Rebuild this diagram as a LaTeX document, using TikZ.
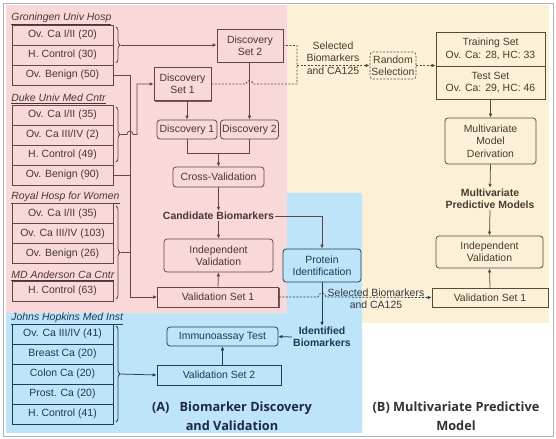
\documentclass[tikz,border=0pt]{standalone}
\usepackage{fontspec}
\setmainfont{Liberation Sans}
\newfontfamily\capfont{Open Sans}
\usetikzlibrary{arrows.meta,decorations.pathreplacing,shadows}
\definecolor{pinkbg}{RGB}{249,216,217}
\definecolor{beigebg}{RGB}{252,240,214}
\definecolor{bluebg}{RGB}{189,228,248}
\definecolor{pline}{RGB}{100,68,68}
\definecolor{ptext}{RGB}{72,54,54}
\definecolor{bline}{RGB}{88,74,58}
\definecolor{btext}{RGB}{70,60,48}
\definecolor{uline}{RGB}{40,58,76}
\definecolor{utext}{RGB}{30,55,88}
\definecolor{capA}{RGB}{28,40,70}
\definecolor{capB}{RGB}{50,50,50}
\begin{document}
\begin{tikzpicture}[x=1bp,y=-1bp, line width=0.75bp,
  every node/.style={font=\fontsize{10.5}{12.5}\selectfont, inner sep=1pt, align=center},
  tip/.style={-{Latex[length=4bp,width=3.6bp]}},
  lbox/.style={draw=#1, minimum width=101bp, minimum height=20bp, inner sep=0pt},
  lbl/.style={anchor=west, font=\fontsize{10.5}{12.5}\selectfont\itshape},
  sbox/.style={draw=#1, drop shadow={shadow xshift=1.4bp, shadow yshift=-1.4bp, fill=#1, opacity=0.85}},
  rbox/.style={draw=#1, rounded corners=3bp},
  dsh/.style={dash pattern=on 2bp off 1.5bp},
  brc/.style={decorate, decoration={brace, amplitude=4bp}}]
\useasboundingbox (0,0) rectangle (556,439);
\fill[white] (0,0) rectangle (556,439);
\draw[black!30, line width=0.5bp] (3,3) rectangle (553,436);
\fill[beigebg] (287,5) rectangle (549,323);
\fill[pinkbg] (6,5) rectangle (287,313);
\fill[bluebg] (6,313) -- (287,313) -- (287,193) -- (362,193) -- (362,433) -- (6,433) -- cycle;

% ---- left column
\begin{scope}[every node/.append style={text=ptext}]
\node[lbl] (lg) at (10,19) {\underline{Groningen Univ Hosp}};
\node[lbox=pline] (g1) at (62.5,35) {Ov. Ca I/II (20)};
\node[lbox=pline] (g2) at (62.5,55) {H. Control (30)};
\node[lbox=pline] (g3) at (62.5,75) {Ov. Benign (50)};
\node[lbl] (ld) at (10,99) {\underline{Duke Univ Med Cntr}};
\node[lbox=pline] (d1) at (62.5,115) {Ov. Ca I/II (35)};
\node[lbox=pline] (d2) at (62.5,135) {Ov. Ca III/IV (2)};
\node[lbox=pline] (d3) at (62.5,155) {H. Control (49)};
\node[lbox=pline] (d4) at (62.5,175) {Ov. Benign (90)};
\node[lbl] (lr) at (10,198) {\underline{Royal Hosp for Women}};
\node[lbox=pline] (r1) at (62.5,213.5) {Ov. Ca I/II (35)};
\node[lbox=pline] (r2) at (62.5,233.5) {Ov. Ca III/IV (103)};
\node[lbox=pline] (r3) at (62.5,253.5) {Ov. Benign (26)};
\node[lbl] (lm) at (10,276) {\underline{MD Anderson Ca Cntr}};
\node[lbox=pline] (m1) at (62.5,291) {H. Control (63)};
\end{scope}
\begin{scope}[every node/.append style={text=utext}]
\node[lbl] (lj) at (10,319) {\underline{Johns Hopkins Med Inst}};
\node[lbox=uline] (j1) at (62.5,334) {Ov. Ca III/IV (41)};
\node[lbox=uline] (j2) at (62.5,354) {Breast Ca (20)};
\node[lbox=uline] (j3) at (62.5,374) {Colon Ca (20)};
\node[lbox=uline] (j4) at (62.5,394) {Prost. Ca (20)};
\node[lbox=uline] (j5) at (62.5,414) {H. Control (41)};
\end{scope}

% braces
\draw[pline,brc] (116,27) -- (116,63);
\draw[pline,brc] (116,107) -- (116,162);
\draw[pline,brc] (116,206) -- (116,299);
\draw[uline,brc] (116,326) -- (116,422);
\coordinate (gtip) at (120.5,45);
\coordinate (dtip) at (120.5,134.5);
\coordinate (rtip) at (120.5,252.5);
\coordinate (jtip) at (120.5,374);

% ---- pink area nodes
\begin{scope}[every node/.append style={text=ptext}]
\node[sbox=pline, fill=pinkbg, minimum width=66bp, minimum height=33bp] (ds2) at (250,45.5) {Discovery\\Set 2};
\node[sbox=pline, fill=pinkbg, minimum width=57bp, minimum height=33bp] (ds1) at (182.5,84) {Discovery\\Set 1};
\node[rbox=pline, minimum width=60bp, minimum height=19bp] (dc1) at (187,129.5) {Discovery 1};
\node[rbox=pline, minimum width=58bp, minimum height=19bp] (dc2) at (249.5,129.5) {Discovery 2};
\node[rbox=pline, minimum width=91bp, minimum height=20bp] (cv) at (218.5,177) {Cross-Validation};
\node[font=\fontsize{10.5}{12.5}\selectfont\bfseries] (cand) at (218.5,216) {Candidate Biomarkers};
\node[rbox=pline, minimum width=109bp, minimum height=33bp] (ivl) at (218.5,255.5) {Independent\\Validation};
\node[sbox=pline, fill=pinkbg, minimum width=121bp, minimum height=20bp] (vs1l) at (218,297) {Validation Set 1};
\end{scope}

% ---- blue area nodes
\begin{scope}[every node/.append style={text=utext}]
\node[rbox=uline, fill=bluebg, minimum width=78bp, minimum height=33bp] (pi) at (322,265.5) {Protein\\Identification};
\node[font=\fontsize{10.5}{12}\selectfont\bfseries] (idb) at (322,337) {Identified\\Biomarkers};
\node[rbox=uline, minimum width=111bp, minimum height=19bp] (imm) at (222.5,336.5) {Immunoassay Test};
\node[sbox=uline, fill=bluebg, minimum width=124bp, minimum height=20bp] (vs2) at (219,375) {Validation Set 2};
\end{scope}

% ---- beige area nodes
\begin{scope}[every node/.append style={text=btext}]
\node[fill=beigebg, inner sep=0.5pt] (sel1) at (333,58) {Selected\\Biomarkers\\and CA125};
\node[rbox=bline, dsh, minimum width=46bp, minimum height=27bp, inner sep=0pt] (rs) at (393,65.5) {Random\\Selection};
\node[sbox=bline, fill=beigebg, minimum width=109bp, minimum height=34bp] (tr) at (490.5,49) {Training Set\\Ov. Ca: 28, HC: 33};
\node[sbox=bline, fill=beigebg, minimum width=109bp, minimum height=33bp] (ts) at (490.5,82.5) {Test Set\\Ov. Ca: 29, HC: 46};
\node[rbox=bline, minimum width=91bp, minimum height=46bp] (mmd) at (490.5,141) {Multivariate\\Model\\Derivation};
\node[font=\fontsize{10.5}{12}\selectfont\bfseries] (mpm) at (490,199) {Multivariate\\Predictive Models};
\node[rbox=bline, minimum width=107bp, minimum height=32bp] (ivr) at (489.5,252) {Independent\\Validation};
\node[sbox=bline, fill=beigebg, minimum width=116bp, minimum height=19bp] (vs1r) at (490,297.5) {Validation Set 1};
\end{scope}

% ---- connectors, pink
\begin{scope}[pline]
\draw[tip] (gtip) -- (ds2.west |- gtip);
\draw[tip] (g3.east) -- (130,75) -- (130,297) -- (vs1l.west);
\draw (d4.east) -- (130,175);
\draw (rtip) -- (130,252.5);
\draw[tip] (dtip) -- (127,134.5) .. controls (127,130) and (133,130) .. (133,134.5) -- (137,134.5) -- (137,84) -- (ds1.west);
\draw[tip] (ds1.south -| dc1.north) -- (dc1.north);
\draw[tip] (ds2.south -| dc2.north) -- (dc2.north);
\draw (dc1.south) -- (187,153) -- (249.5,153) -- (dc2.south);
\draw[tip] (218.5,153) -- (cv.north);
\draw[tip] (cv.south) -- (cand.north);
\draw[tip] (cand.south) -- (ivl.north);
\draw[tip] (vs1l.north) -- (ivl.south);
\draw[tip] (cand.east) -- (cand.east -| pi.north) -- (pi.north);
\draw[dsh] (ds1.east) -- (246,84) .. controls (246,79.5) and (253,79.5) .. (253,84) -- (297,84) -- (297,45.5) -- (ds2.east);
\draw[dsh,tip] (297,65.5) -- (rs.west);
\end{scope}
\draw[bline,dsh,tip] (rs.east) -- (tr.west |- rs.east);

% ---- connectors, blue
\begin{scope}[uline]
\draw[tip] (pi.south) -- (idb.north);
\draw[tip] (idb.west) -- (imm.east);
\draw[tip] (vs2.north -| imm.south) -- (imm.south);
\draw[tip] (jtip) -- (vs2.west);
\draw[dsh,tip] (vs1l.east) -- (318,297) .. controls (318,292) and (326,292) .. (326,297) -- (vs1r.west);
\end{scope}
\node[text=ptext!60!utext] (sel2) at (376,298.5) {Selected Biomarkers\\and CA125};

% ---- connectors, beige
\begin{scope}[bline]
\draw[tip] (ts.south) -- (mmd.north);
\draw[tip] (mmd.south) -- (mpm.north);
\draw[tip] (mpm.south) -- (ivr.north);
\draw[tip] (vs1r.north) -- (ivr.south);
\end{scope}

% ---- captions
\node[font=\capfont\bfseries\fontsize{12.8}{19}\selectfont, text=capA] (capa) at (232,416) {(A)\hspace{0.8em}Biomarker Discovery\\and Validation};
\node[font=\capfont\bfseries\fontsize{12.8}{19}\selectfont, text=capB] (capb) at (456,416) {(B) Multivariate Predictive\\Model};
\end{tikzpicture}
\end{document}
